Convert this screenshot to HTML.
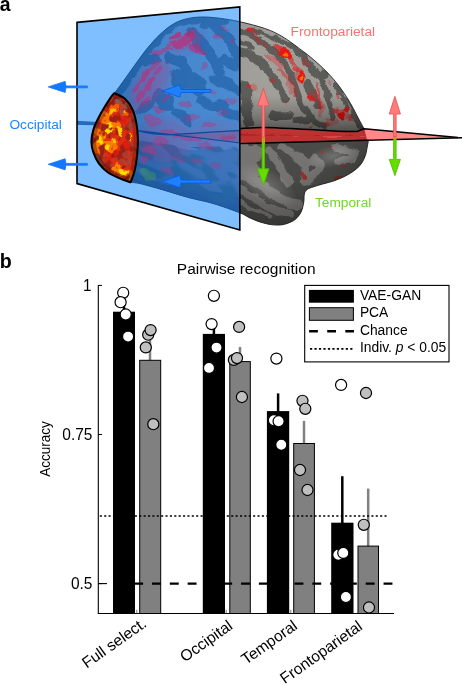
<!DOCTYPE html>
<html lang="en"><head><meta charset="utf-8"><title>Figure</title>
<style>html,body{margin:0;padding:0;background:#fff}svg{display:block}</style></head><body>
<svg width="462" height="685" viewBox="0 0 462 685">
<rect width="462" height="685" fill="#fff"/>
<defs>
<clipPath id="cb"><path d="M240.0 21.8 C247.6 23.5 257.6 26.0 264.6 28.4 C271.6 30.8 276.2 33.0 282.0 36.4 C287.8 39.8 293.5 44.2 299.3 48.5 C305.1 52.8 310.8 57.1 316.6 62.3 C322.4 67.5 328.7 73.6 333.9 79.7 C339.1 85.8 343.7 92.4 347.7 98.7 C351.7 105.0 355.4 112.7 358.1 117.7 C360.8 122.7 362.3 125.6 364.0 128.8 C365.7 132.0 367.8 134.0 368.3 137.0 C368.8 140.0 367.8 143.7 367.2 147.0 C366.6 150.3 366.2 153.8 364.8 157.0 C363.4 160.2 361.9 163.5 359.0 166.5 C356.1 169.5 351.7 172.5 347.7 174.8 C343.7 177.1 339.1 179.0 335.0 180.5 C330.9 182.0 326.4 182.9 322.8 184.0 C319.2 185.1 315.7 186.0 313.1 186.9 C310.5 187.8 308.5 188.3 307.0 189.5 C305.5 190.7 304.8 192.2 304.3 194.0 C303.8 195.8 304.2 198.0 304.0 200.0 C303.8 202.0 303.5 204.0 303.0 206.0 C302.5 208.0 302.0 210.2 301.0 212.2 C300.0 214.1 298.5 216.2 297.0 217.7 C295.5 219.2 294.5 220.2 292.0 221.4 C289.5 222.6 285.5 224.3 282.0 224.8 C278.5 225.3 274.7 225.1 271.0 224.6 C267.3 224.1 263.5 223.1 260.0 222.0 C256.5 220.9 253.3 219.5 250.0 218.0 C246.7 216.5 246.2 215.3 240.0 212.9 C233.8 210.5 221.7 206.1 213.0 203.5 C204.3 200.9 196.3 199.7 187.9 197.4 C179.5 195.1 170.7 192.2 162.8 189.9 C155.0 187.6 146.2 185.1 140.8 183.8 C135.4 182.5 133.8 182.9 130.4 182.0 C127.0 181.1 124.0 180.2 120.3 178.6 C116.6 177.0 111.6 175.1 108.0 172.5 C104.4 169.9 101.2 166.6 98.8 163.3 C96.4 160.0 94.6 156.1 93.4 152.5 C92.2 148.9 91.4 145.6 91.4 141.8 C91.4 138.0 92.2 133.6 93.4 129.5 C94.6 125.4 96.9 121.0 98.8 117.2 C100.7 113.4 103.0 109.7 104.9 106.5 C106.8 103.3 108.5 100.5 110.3 98.0 C112.1 95.5 113.5 94.3 115.7 91.5 C117.9 88.7 120.4 85.3 123.5 81.0 C126.6 76.7 130.6 71.0 134.5 65.6 C138.4 60.2 142.9 53.7 147.1 48.6 C151.3 43.5 155.4 38.8 159.6 34.8 C163.8 30.8 168.0 27.3 172.2 24.7 C176.4 22.1 180.0 20.6 184.7 19.3 C189.4 18.0 194.6 17.2 200.4 17.0 C206.2 16.8 212.7 17.4 219.3 18.2 C225.9 19.0 232.4 20.1 240.0 21.8Z"/></clipPath>
<clipPath id="cbl"><path d="M240.0 21.8 C247.6 23.5 257.6 26.0 264.6 28.4 C271.6 30.8 276.2 33.0 282.0 36.4 C287.8 39.8 293.5 44.2 299.3 48.5 C305.1 52.8 310.8 57.1 316.6 62.3 C322.4 67.5 328.7 73.6 333.9 79.7 C339.1 85.8 343.7 92.4 347.7 98.7 C351.7 105.0 355.4 112.7 358.1 117.7 C360.8 122.7 362.3 125.6 364.0 128.8 C365.7 132.0 367.8 134.0 368.3 137.0 C368.8 140.0 367.8 143.7 367.2 147.0 C366.6 150.3 366.2 153.8 364.8 157.0 C363.4 160.2 361.9 163.5 359.0 166.5 C356.1 169.5 351.7 172.5 347.7 174.8 C343.7 177.1 339.1 179.0 335.0 180.5 C330.9 182.0 326.4 182.9 322.8 184.0 C319.2 185.1 315.7 186.0 313.1 186.9 C310.5 187.8 308.5 188.3 307.0 189.5 C305.5 190.7 304.8 192.2 304.3 194.0 C303.8 195.8 304.2 198.0 304.0 200.0 C303.8 202.0 303.5 204.0 303.0 206.0 C302.5 208.0 302.0 210.2 301.0 212.2 C300.0 214.1 298.5 216.2 297.0 217.7 C295.5 219.2 294.5 220.2 292.0 221.4 C289.5 222.6 285.5 224.3 282.0 224.8 C278.5 225.3 274.7 225.1 271.0 224.6 C267.3 224.1 263.5 223.1 260.0 222.0 C256.5 220.9 253.3 219.5 250.0 218.0 C246.7 216.5 246.2 215.3 240.0 212.9 C233.8 210.5 221.7 206.1 213.0 203.5 C204.3 200.9 196.3 199.7 187.9 197.4 C179.5 195.1 170.7 192.2 162.8 189.9 C155.0 187.6 146.2 185.1 140.8 183.8 C135.4 182.5 133.8 182.9 130.4 182.0 C127.0 181.1 124.0 180.2 120.3 178.6 C116.6 177.0 111.6 175.1 108.0 172.5 C104.4 169.9 101.2 166.6 98.8 163.3 C96.4 160.0 94.6 156.1 93.4 152.5 C92.2 148.9 91.4 145.6 91.4 141.8 C91.4 138.0 92.2 133.6 93.4 129.5 C94.6 125.4 96.9 121.0 98.8 117.2 C100.7 113.4 103.0 109.7 104.9 106.5 C106.8 103.3 108.5 100.5 110.3 98.0 C112.1 95.5 113.5 94.3 115.7 91.5 C117.9 88.7 120.4 85.3 123.5 81.0 C126.6 76.7 130.6 71.0 134.5 65.6 C138.4 60.2 142.9 53.7 147.1 48.6 C151.3 43.5 155.4 38.8 159.6 34.8 C163.8 30.8 168.0 27.3 172.2 24.7 C176.4 22.1 180.0 20.6 184.7 19.3 C189.4 18.0 194.6 17.2 200.4 17.0 C206.2 16.8 212.7 17.4 219.3 18.2 C225.9 19.0 232.4 20.1 240.0 21.8Z" clip-path="url(#cleft)"/></clipPath><clipPath id="cleft"><rect x="77" y="0" width="162.5" height="240"/></clipPath>
<clipPath id="cll"><path d="M85 240 L85 150 L135 140 L190 147 L240 146 L240 240Z"/></clipPath>
<clipPath id="cleft2"><rect x="70" y="0" width="169.8" height="245"/></clipPath><clipPath id="cright"><rect x="239.8" y="0" width="150" height="245"/></clipPath>
<clipPath id="cp"><path d="M114.2 93.2 C116.0 94.1 121.8 96.1 124.9 98.8 C128.0 101.5 130.7 105.5 132.6 109.6 C134.5 113.7 135.5 118.6 136.4 123.4 C137.3 128.2 137.8 133.6 137.9 138.7 C138.0 143.8 137.7 148.9 137.2 154.0 C136.7 159.1 136.0 164.7 134.9 169.4 C133.8 174.1 131.4 180.2 130.7 182.3 L130.7 182.3 C129.0 181.7 124.1 180.2 120.3 178.6 C116.5 177.0 111.6 175.1 108.0 172.5 C104.4 169.9 101.2 166.6 98.8 163.3 C96.4 160.0 94.6 156.1 93.4 152.5 C92.2 148.9 91.4 145.6 91.4 141.8 C91.4 138.0 92.2 133.6 93.4 129.5 C94.6 125.4 96.9 121.0 98.8 117.2 C100.7 113.4 103.0 109.7 104.9 106.5 C106.8 103.3 108.8 100.2 110.3 98.0 C111.8 95.8 113.5 94.0 114.2 93.2Z"/></clipPath>
<radialGradient id="shade" gradientUnits="userSpaceOnUse" cx="262" cy="82" r="190" fx="270" fy="70"><stop offset="0" stop-color="#000" stop-opacity="0"/><stop offset="0.55" stop-color="#000" stop-opacity="0.08"/><stop offset="0.8" stop-color="#000" stop-opacity="0.35"/><stop offset="1" stop-color="#000" stop-opacity="0.6"/></radialGradient>
<linearGradient id="syl" x1="0" y1="0" x2="0" y2="1"><stop offset="0" stop-color="#000" stop-opacity="0"/><stop offset="0.55" stop-color="#000" stop-opacity="0.25"/><stop offset="1" stop-color="#000" stop-opacity="0.55"/></linearGradient>
<radialGradient id="hl"><stop offset="0" stop-color="#fff" stop-opacity="0.22"/><stop offset="1" stop-color="#fff" stop-opacity="0"/></radialGradient>
<filter id="tex" color-interpolation-filters="sRGB" x="0" y="0" width="100%" height="100%" filterUnits="objectBoundingBox"><feTurbulence type="fractalNoise" baseFrequency="0.028 0.085" numOctaves="2" seed="7"/><feColorMatrix type="matrix" values="0 0 0 0 0.36  0 0 0 0 0.36  0 0 0 0 0.355  9 0 0 0 -4.3"/></filter>
<filter id="tex2" color-interpolation-filters="sRGB" x="0" y="0" width="100%" height="100%" filterUnits="objectBoundingBox"><feTurbulence type="fractalNoise" baseFrequency="0.035 0.09" numOctaves="2" seed="23"/><feColorMatrix type="matrix" values="0 0 0 0 0.36  0 0 0 0 0.36  0 0 0 0 0.355  9 0 0 0 -4.2"/></filter>
<filter id="redtex" color-interpolation-filters="sRGB" x="0" y="0" width="100%" height="100%"><feTurbulence type="fractalNoise" baseFrequency="0.05 0.09" numOctaves="3" seed="11"/><feColorMatrix type="matrix" values="0 0 0 0 0.93  0 0 0 0 0.08  0 0 0 0 0.06  0 0 0 11 -6.6"/></filter>
<filter id="rough" x="-5%" y="-5%" width="110%" height="110%" color-interpolation-filters="sRGB"><feTurbulence type="fractalNoise" baseFrequency="0.09" numOctaves="2" seed="3" result="n"/><feDisplacementMap in="SourceGraphic" in2="n" scale="7" xChannelSelector="R" yChannelSelector="G"/></filter>
<filter id="rough2" x="-10%" y="-10%" width="120%" height="120%" color-interpolation-filters="sRGB"><feTurbulence type="fractalNoise" baseFrequency="0.14" numOctaves="2" seed="5" result="n"/><feDisplacementMap in="SourceGraphic" in2="n" scale="9" xChannelSelector="R" yChannelSelector="G"/></filter>
<linearGradient id="pshade" gradientUnits="userSpaceOnUse" x1="138" y1="110" x2="92" y2="165"><stop offset="0" stop-color="#501008" stop-opacity="0.25"/><stop offset="1" stop-color="#401008" stop-opacity="0.45"/></linearGradient>
<filter id="ptex" x="0" y="0" width="100%" height="100%" color-interpolation-filters="sRGB"><feTurbulence type="fractalNoise" baseFrequency="0.16 0.13" numOctaves="2" seed="9"/><feColorMatrix type="matrix" values="0 0 0 0 0.62  0 0 0 0 0.12  0 0 0 0 0.08  0 7 0 0 -3.6"/></filter>
<filter id="b1"><feGaussianBlur stdDeviation="1.2"/></filter>
<filter id="b3"><feGaussianBlur stdDeviation="3"/></filter>
</defs>
<g clip-path="url(#cb)">
<rect x="85" y="10" width="290" height="225" fill="#a3a19b"/>
<g clip-path="url(#cleft2)"><g filter="url(#rough)">
<rect x="70" y="0" width="180" height="245" fill="#989aa6"/>
<path d="M70 245 L70 150 L135 140 L190 150 L250 148 L250 245Z" fill="#857080"/>
<path d="M70 245 L70 182 L135 178 L190 188 L250 200 L250 245Z" fill="#5c4c66"/>
<path d="M112.0 99.0 C114.3 95.7 120.5 86.8 126.0 79.0 C131.5 71.2 138.7 60.0 145.0 52.0 C151.3 44.0 157.5 36.2 164.0 31.0 C170.5 25.8 177.2 23.1 184.0 21.0 C190.8 18.9 198.7 18.7 205.0 18.5 C211.3 18.3 219.2 19.8 222.0 20.0" fill="none" stroke="#5c5e6a" stroke-width="11.0" stroke-linecap="round" stroke-linejoin="round"/>
<path d="M192.0 33.0 C194.1 35.4 200.9 42.8 204.7 47.3 C208.5 51.8 212.1 55.7 214.6 59.8 C217.1 63.9 218.8 70.0 219.6 72.0" fill="none" stroke="#5c5e6a" stroke-width="11.0" stroke-linecap="round" stroke-linejoin="round"/>
<path d="M212.0 25.0 C214.1 26.7 220.8 30.8 224.6 35.0 C228.4 39.2 232.0 46.2 234.6 50.0 C237.2 53.8 239.1 56.7 240.0 58.0" fill="none" stroke="#5c5e6a" stroke-width="11.0" stroke-linecap="round" stroke-linejoin="round"/>
<path d="M178.0 80.0 C180.0 79.8 186.7 78.0 190.0 79.0 C193.3 80.0 196.7 84.8 198.0 86.0" fill="none" stroke="#5c5e6a" stroke-width="18.0" stroke-linecap="round" stroke-linejoin="round"/>
<path d="M214.6 79.7 C217.1 80.5 225.4 82.7 229.6 84.7 C233.8 86.8 238.3 90.8 240.0 92.0" fill="none" stroke="#5c5e6a" stroke-width="11.0" stroke-linecap="round" stroke-linejoin="round"/>
<path d="M224.6 59.8 C227.2 61.0 237.4 65.8 240.0 67.0" fill="none" stroke="#5c5e6a" stroke-width="10.0" stroke-linecap="round" stroke-linejoin="round"/>
<path d="M158.0 96.0 C159.7 97.3 166.3 102.7 168.0 104.0" fill="none" stroke="#5c5e6a" stroke-width="14.0" stroke-linecap="round" stroke-linejoin="round"/>
<path d="M168.0 58.0 C170.0 58.7 177.0 60.0 180.0 62.0 C183.0 64.0 185.0 68.7 186.0 70.0" fill="none" stroke="#5c5e6a" stroke-width="10.0" stroke-linecap="round" stroke-linejoin="round"/>
<path d="M140.0 110.0 C141.7 109.0 148.3 105.0 150.0 104.0" fill="none" stroke="#5c5e6a" stroke-width="10.0" stroke-linecap="round" stroke-linejoin="round"/>
<path d="M200.0 100.0 C202.0 101.0 208.0 105.3 212.0 106.0 C216.0 106.7 222.0 104.3 224.0 104.0" fill="none" stroke="#5c5e6a" stroke-width="10.0" stroke-linecap="round" stroke-linejoin="round"/>
<path d="M176.0 112.0 C178.0 113.7 186.0 120.3 188.0 122.0" fill="none" stroke="#5c5e6a" stroke-width="9.0" stroke-linecap="round" stroke-linejoin="round"/>
<path d="M226.0 112.0 C228.3 113.0 237.7 117.0 240.0 118.0" fill="none" stroke="#5c5e6a" stroke-width="9.0" stroke-linecap="round" stroke-linejoin="round"/>
<path d="M205.0 25.0 C206.5 24.5 212.5 22.5 214.0 22.0" fill="none" stroke="#5c5e6a" stroke-width="8.0" stroke-linecap="round" stroke-linejoin="round"/>
<path d="M146.0 62.0 C147.7 61.3 154.3 58.7 156.0 58.0" fill="none" stroke="#5c5e6a" stroke-width="9.0" stroke-linecap="round" stroke-linejoin="round"/>
</g></g>
<g clip-path="url(#cright)"><g filter="url(#rough)">
<path d="M225.0 245.0 L225.0 133.0 L300.0 136.0 L390.0 136.0 L390.0 245.0 Z" fill="#4f4f4d"/>
<path d="M252.0 30.5 C254.0 31.2 260.0 33.0 264.0 34.5 C268.0 36.0 271.7 37.5 276.0 39.5 C280.3 41.5 285.5 43.9 290.0 46.5 C294.5 49.1 300.8 53.6 303.0 55.0" fill="none" stroke="#5f5f5c" stroke-width="3.4" stroke-linecap="round" stroke-linejoin="round"/>
<path d="M240.0 31.0 C242.0 31.8 248.2 33.8 251.9 35.8 C255.6 37.8 258.8 40.3 262.2 42.7 C265.6 45.1 269.7 47.4 272.6 50.0 C275.5 52.6 277.3 55.5 279.6 58.3 C281.9 61.1 284.4 63.7 286.5 67.0 C288.6 70.3 290.2 73.8 292.0 78.0 C293.8 82.2 295.4 87.7 297.0 92.0 C298.6 96.3 300.1 101.0 301.5 104.0 C302.9 107.0 304.8 109.0 305.5 110.0" fill="none" stroke="#5f5f5c" stroke-width="6.5" stroke-linecap="round" stroke-linejoin="round"/>
<path d="M240.0 52.0 C241.4 52.3 245.8 52.9 248.4 54.0 C251.0 55.1 252.7 56.6 255.3 58.6 C257.9 60.6 261.4 63.4 264.0 66.0 C266.6 68.6 268.7 71.0 271.0 74.0 C273.3 77.0 275.8 80.8 277.8 84.0 C279.8 87.2 281.6 91.0 283.0 93.5 C284.4 96.0 285.5 98.1 286.0 99.0" fill="none" stroke="#5f5f5c" stroke-width="7.8" stroke-linecap="round" stroke-linejoin="round"/>
<path d="M241.0 42.0 C242.0 42.4 245.3 43.5 247.0 44.5 C248.7 45.5 250.3 47.4 251.0 48.0" fill="none" stroke="#5f5f5c" stroke-width="5.2" stroke-linecap="round" stroke-linejoin="round"/>
<path d="M295.1 49.6 C296.5 50.7 300.7 53.6 303.2 56.0 C305.7 58.4 307.5 60.7 310.1 64.0 C312.7 67.3 316.2 71.7 318.8 76.0 C321.4 80.3 324.0 85.2 325.7 90.0 C327.4 94.8 328.0 100.3 329.2 105.0 C330.4 109.7 332.0 115.8 332.6 118.0" fill="none" stroke="#5f5f5c" stroke-width="6.0" stroke-linecap="round" stroke-linejoin="round"/>
<path d="M305.0 60.0 C306.0 61.3 308.8 65.0 311.0 68.0 C313.2 71.0 316.8 76.3 318.0 78.0" fill="none" stroke="#5f5f5c" stroke-width="5.5" stroke-linecap="round" stroke-linejoin="round"/>
<path d="M276.0 37.5 C277.7 38.4 283.0 41.2 286.0 43.0 C289.0 44.8 292.7 47.2 294.0 48.0" fill="none" stroke="#5f5f5c" stroke-width="5.9" stroke-linecap="round" stroke-linejoin="round"/>
<path d="M245.0 85.6 C245.3 87.3 246.6 92.0 246.7 96.0 C246.8 100.0 245.5 105.6 245.8 109.8 C246.1 114.0 248.0 119.1 248.4 121.0" fill="none" stroke="#5f5f5c" stroke-width="11.1" stroke-linecap="round" stroke-linejoin="round"/>
<path d="M307.3 84.0 C308.3 86.0 311.8 92.3 313.5 96.0 C315.2 99.7 317.0 104.3 317.7 106.0" fill="none" stroke="#5f5f5c" stroke-width="5.9" stroke-linecap="round" stroke-linejoin="round"/>
<path d="M273.0 115.9 C275.7 115.8 286.3 115.6 289.0 115.5" fill="none" stroke="#5f5f5c" stroke-width="8.5" stroke-linecap="round" stroke-linejoin="round"/>
<path d="M296.0 120.5 C298.0 120.3 306.0 119.7 308.0 119.5" fill="none" stroke="#5f5f5c" stroke-width="7.2" stroke-linecap="round" stroke-linejoin="round"/>
<path d="M308.4 112.7 C309.5 114.2 312.7 119.7 315.3 122.0 C317.9 124.3 322.6 125.8 324.0 126.6" fill="none" stroke="#5f5f5c" stroke-width="6.5" stroke-linecap="round" stroke-linejoin="round"/>
<path d="M324.0 74.6 C324.0 74.6 324.2 74.8 324.2 74.8" fill="none" stroke="#5f5f5c" stroke-width="9.1" stroke-linecap="round" stroke-linejoin="round"/>
<path d="M337.8 86.0 C337.9 86.8 338.1 90.2 338.2 91.0" fill="none" stroke="#5f5f5c" stroke-width="7.8" stroke-linecap="round" stroke-linejoin="round"/>
<path d="M336.0 83.0 C337.3 85.0 341.3 90.8 344.0 95.0 C346.7 99.2 349.6 103.7 352.0 108.0 C354.4 112.3 356.7 117.3 358.5 121.0 C360.3 124.7 362.2 128.5 363.0 130.0" fill="none" stroke="#5f5f5c" stroke-width="3.9" stroke-linecap="round" stroke-linejoin="round"/>
<path d="M355.0 116.0 C355.8 117.7 359.2 124.3 360.0 126.0" fill="none" stroke="#5f5f5c" stroke-width="6.5" stroke-linecap="round" stroke-linejoin="round"/>
<path d="M343.0 100.0 C343.7 101.7 346.3 108.3 347.0 110.0" fill="none" stroke="#5f5f5c" stroke-width="4.5" stroke-linecap="round" stroke-linejoin="round"/>
<path d="M243.0 150.0 C244.2 150.8 248.0 154.5 250.0 155.0 C252.0 155.5 254.2 153.3 255.0 153.0" fill="none" stroke="#7d7c79" stroke-width="17.1" stroke-linecap="round" stroke-linejoin="round"/>
<path d="M242.0 160.0 C243.0 161.0 246.0 164.0 248.0 166.0 C250.0 168.0 253.0 171.0 254.0 172.0" fill="none" stroke="#7d7c79" stroke-width="11.4" stroke-linecap="round" stroke-linejoin="round"/>
<path d="M269.2 150.4 C270.6 152.4 275.2 158.5 277.8 162.5 C280.4 166.5 282.8 171.1 284.8 174.6 C286.8 178.1 289.1 181.9 290.0 183.3" fill="none" stroke="#7d7c79" stroke-width="8.4" stroke-linecap="round" stroke-linejoin="round"/>
<path d="M281.3 147.5 C282.8 148.0 287.1 148.7 290.0 150.6 C292.9 152.5 295.9 156.4 298.6 159.0 C301.3 161.6 304.8 164.8 306.0 166.0" fill="none" stroke="#7d7c79" stroke-width="8.0" stroke-linecap="round" stroke-linejoin="round"/>
<path d="M298.0 155.0 C299.2 157.2 304.1 163.7 305.0 168.0 C305.9 172.3 303.8 178.8 303.5 181.0" fill="none" stroke="#7d7c79" stroke-width="7.6" stroke-linecap="round" stroke-linejoin="round"/>
<path d="M240.0 173.0 C242.0 174.0 247.9 176.4 251.9 178.8 C255.9 181.2 260.0 184.6 264.0 187.5 C268.0 190.4 271.7 193.4 276.0 196.0 C280.3 198.6 286.2 201.5 290.0 203.0 C293.8 204.5 297.2 204.5 298.6 204.8" fill="none" stroke="#7d7c79" stroke-width="10.6" stroke-linecap="round" stroke-linejoin="round"/>
<path d="M240.0 188.5 C242.0 189.8 247.9 193.3 251.9 196.0 C255.9 198.7 259.7 202.2 264.0 204.8 C268.3 207.4 273.5 210.2 277.8 211.7 C282.1 213.1 288.0 213.2 290.0 213.5" fill="none" stroke="#7d7c79" stroke-width="8.0" stroke-linecap="round" stroke-linejoin="round"/>
<path d="M240.0 201.5 C242.6 203.0 250.4 208.2 255.3 210.7 C260.2 213.2 266.9 215.5 269.2 216.5" fill="none" stroke="#7d7c79" stroke-width="4.2" stroke-linecap="round" stroke-linejoin="round"/>
<path d="M334.0 148.0 C336.0 148.2 342.5 148.4 346.0 149.5 C349.5 150.6 354.5 152.8 355.0 154.5 C355.5 156.2 351.8 158.4 349.0 159.5 C346.2 160.6 339.8 160.8 338.0 161.0" fill="none" stroke="#7d7c79" stroke-width="7.6" stroke-linecap="round" stroke-linejoin="round"/>
<path d="M298.0 154.5 C299.4 155.7 303.7 160.6 306.5 161.5 C309.3 162.4 312.7 159.4 315.0 160.0 C317.3 160.6 320.5 162.8 320.5 165.0 C320.5 167.2 317.0 171.0 315.0 173.5 C313.0 176.0 309.6 178.9 308.5 180.0" fill="none" stroke="#7d7c79" stroke-width="8.7" stroke-linecap="round" stroke-linejoin="round"/>
<path d="M252.0 163.0 C253.0 164.0 256.3 166.8 258.0 169.0 C259.7 171.2 261.3 174.8 262.0 176.0" fill="none" stroke="#7d7c79" stroke-width="5.7" stroke-linecap="round" stroke-linejoin="round"/>
</g></g>
<g clip-path="url(#cll)"><g transform="rotate(24 190 170)"><rect x="60" y="60" width="260" height="220" fill="#a08e9c" fill-opacity="0.55" filter="url(#tex2)"/></g></g>
<g filter="url(#rough)">
<ellipse cx="282.0" cy="52.0" rx="11.0" ry="4.2" transform="rotate(35 282.0 52.0)" fill="#e01818" fill-opacity="0.38"/>
<ellipse cx="300.0" cy="76.0" rx="4.6" ry="7.5" transform="rotate(-30 300.0 76.0)" fill="#e01818" fill-opacity="0.38"/>
<ellipse cx="343.0" cy="114.0" rx="7.0" ry="5.5" transform="rotate(20 343.0 114.0)" fill="#e01818" fill-opacity="0.38"/>
<ellipse cx="276.0" cy="62.0" rx="2.5" ry="12.0" transform="rotate(-48 276.0 62.0)" fill="#e02020" fill-opacity="0.30"/>
<ellipse cx="292.0" cy="84.0" rx="2.5" ry="12.0" transform="rotate(-28 292.0 84.0)" fill="#e02020" fill-opacity="0.30"/>
<ellipse cx="252.0" cy="32.0" rx="8.0" ry="2.5" transform="rotate(28 252.0 32.0)" fill="#e02020" fill-opacity="0.30"/>
<ellipse cx="313.0" cy="96.0" rx="4.0" ry="6.0" transform="rotate(-15 313.0 96.0)" fill="#e02020" fill-opacity="0.30"/>
<ellipse cx="321.0" cy="108.0" rx="2.5" ry="9.0" transform="rotate(-8 321.0 108.0)" fill="#e02020" fill-opacity="0.30"/>
<ellipse cx="307.0" cy="64.0" rx="5.0" ry="3.0" transform="rotate(35 307.0 64.0)" fill="#e02020" fill-opacity="0.27"/>
<ellipse cx="263.0" cy="44.0" rx="6.0" ry="2.0" transform="rotate(35 263.0 44.0)" fill="#e02020" fill-opacity="0.27"/>
<ellipse cx="332.0" cy="122.0" rx="7.0" ry="3.0" transform="rotate(10 332.0 122.0)" fill="#e02020" fill-opacity="0.30"/>
<ellipse cx="254.0" cy="88.0" rx="4.0" ry="3.0" transform="rotate(0 254.0 88.0)" fill="#e02020" fill-opacity="0.30"/>
<ellipse cx="284.8" cy="54.0" rx="8.5" ry="4.2" transform="rotate(35 284.8 54.0)" fill="#f01010" fill-opacity="0.95"/>
<ellipse cx="285.5" cy="55.0" rx="3.6" ry="1.8" transform="rotate(35 285.5 55.0)" fill="#ff7a00" fill-opacity="0.95"/>
<ellipse cx="278.0" cy="47.0" rx="6.0" ry="2.2" transform="rotate(32 278.0 47.0)" fill="#e02020" fill-opacity="0.55"/>
<ellipse cx="292.0" cy="61.0" rx="5.0" ry="2.2" transform="rotate(40 292.0 61.0)" fill="#e02020" fill-opacity="0.60"/>
<ellipse cx="248.4" cy="29.7" rx="3.2" ry="1.6" transform="rotate(25 248.4 29.7)" fill="#e81818" fill-opacity="0.85"/>
<ellipse cx="257.0" cy="38.4" rx="4.5" ry="1.2" transform="rotate(35 257.0 38.4)" fill="#e02020" fill-opacity="0.70"/>
<ellipse cx="301.5" cy="77.2" rx="3.6" ry="5.2" transform="rotate(-25 301.5 77.2)" fill="#f01010" fill-opacity="0.95"/>
<ellipse cx="302.0" cy="78.0" rx="1.7" ry="2.6" transform="rotate(-25 302.0 78.0)" fill="#ff8800" fill-opacity="0.95"/>
<ellipse cx="296.0" cy="69.0" rx="3.0" ry="4.5" transform="rotate(-35 296.0 69.0)" fill="#e02020" fill-opacity="0.60"/>
<ellipse cx="341.3" cy="116.2" rx="3.6" ry="5.0" transform="rotate(0 341.3 116.2)" fill="#f00c0c" fill-opacity="0.95"/>
<ellipse cx="346.5" cy="110.5" rx="3.6" ry="2.6" transform="rotate(30 346.5 110.5)" fill="#e81818" fill-opacity="0.85"/>
<ellipse cx="336.0" cy="110.0" rx="3.5" ry="2.2" transform="rotate(-20 336.0 110.0)" fill="#e02020" fill-opacity="0.70"/>
<ellipse cx="351.0" cy="118.0" rx="2.0" ry="3.0" transform="rotate(0 351.0 118.0)" fill="#e02020" fill-opacity="0.60"/>
<ellipse cx="311.0" cy="98.9" rx="2.2" ry="3.4" transform="rotate(-15 311.0 98.9)" fill="#e81818" fill-opacity="0.80"/>
<ellipse cx="318.8" cy="100.0" rx="1.6" ry="9.0" transform="rotate(-3 318.8 100.0)" fill="#e02020" fill-opacity="0.60"/>
<ellipse cx="316.5" cy="88.0" rx="1.4" ry="5.0" transform="rotate(-12 316.5 88.0)" fill="#e02020" fill-opacity="0.50"/>
<ellipse cx="337.8" cy="96.5" rx="2.4" ry="3.6" transform="rotate(-20 337.8 96.5)" fill="#e83030" fill-opacity="0.50"/>
<ellipse cx="250.0" cy="85.6" rx="2.2" ry="1.8" transform="rotate(0 250.0 85.6)" fill="#e81818" fill-opacity="0.80"/>
<ellipse cx="283.0" cy="74.0" rx="1.6" ry="7.0" transform="rotate(-38 283.0 74.0)" fill="#e02020" fill-opacity="0.50"/>
<ellipse cx="290.0" cy="88.0" rx="1.5" ry="7.0" transform="rotate(-25 290.0 88.0)" fill="#e02020" fill-opacity="0.33"/>
<ellipse cx="268.0" cy="58.0" rx="1.4" ry="5.0" transform="rotate(-50 268.0 58.0)" fill="#e02020" fill-opacity="0.33"/>
<ellipse cx="273.0" cy="79.0" rx="2.0" ry="2.0" transform="rotate(0 273.0 79.0)" fill="#e02020" fill-opacity="0.50"/>
<ellipse cx="295.0" cy="96.0" rx="2.2" ry="2.2" transform="rotate(0 295.0 96.0)" fill="#e02020" fill-opacity="0.50"/>
<ellipse cx="287.0" cy="102.0" rx="2.0" ry="1.5" transform="rotate(0 287.0 102.0)" fill="#e02020" fill-opacity="0.50"/>
<ellipse cx="326.0" cy="124.0" rx="4.0" ry="1.6" transform="rotate(10 326.0 124.0)" fill="#e02020" fill-opacity="0.60"/>
<ellipse cx="310.0" cy="127.0" rx="3.0" ry="1.4" transform="rotate(0 310.0 127.0)" fill="#e02020" fill-opacity="0.50"/>
<ellipse cx="305.0" cy="60.0" rx="2.5" ry="1.2" transform="rotate(30 305.0 60.0)" fill="#e02020" fill-opacity="0.50"/>
<ellipse cx="330.0" cy="82.0" rx="1.5" ry="3.0" transform="rotate(-20 330.0 82.0)" fill="#e02020" fill-opacity="0.30"/>
<ellipse cx="303.0" cy="176.0" rx="1.6" ry="3.2" transform="rotate(-25 303.0 176.0)" fill="#b01818" fill-opacity="0.75"/>
<ellipse cx="330.0" cy="147.5" rx="1.6" ry="1.4" transform="rotate(0 330.0 147.5)" fill="#c01818" fill-opacity="0.70"/>
<ellipse cx="322.5" cy="152.5" rx="1.6" ry="1.4" transform="rotate(0 322.5 152.5)" fill="#c01818" fill-opacity="0.70"/>
<ellipse cx="338.0" cy="177.0" rx="5.0" ry="1.8" transform="rotate(-28 338.0 177.0)" fill="#a01414" fill-opacity="0.60"/>
<ellipse cx="344.0" cy="166.0" rx="1.4" ry="1.2" transform="rotate(0 344.0 166.0)" fill="#c01818" fill-opacity="0.50"/>
</g>
<rect x="85" y="10" width="290" height="225" fill="url(#shade)"/>
<rect x="240" y="96" width="140" height="40" fill="url(#syl)"/>
<ellipse cx="266" cy="186" rx="36" ry="17" transform="rotate(30 266 186)" fill="url(#hl)"/>
<ellipse cx="333" cy="156" rx="26" ry="11" transform="rotate(-12 333 156)" fill="url(#hl)"/>
</g>
<path d="M240.0 21.8 C247.6 23.5 257.6 26.0 264.6 28.4 C271.6 30.8 276.2 33.0 282.0 36.4 C287.8 39.8 293.5 44.2 299.3 48.5 C305.1 52.8 310.8 57.1 316.6 62.3 C322.4 67.5 328.7 73.6 333.9 79.7 C339.1 85.8 343.7 92.4 347.7 98.7 C351.7 105.0 355.4 112.7 358.1 117.7 C360.8 122.7 362.3 125.6 364.0 128.8 C365.7 132.0 367.8 134.0 368.3 137.0 C368.8 140.0 367.8 143.7 367.2 147.0 C366.6 150.3 366.2 153.8 364.8 157.0 C363.4 160.2 361.9 163.5 359.0 166.5 C356.1 169.5 351.7 172.5 347.7 174.8 C343.7 177.1 339.1 179.0 335.0 180.5 C330.9 182.0 326.4 182.9 322.8 184.0 C319.2 185.1 315.7 186.0 313.1 186.9 C310.5 187.8 308.5 188.3 307.0 189.5 C305.5 190.7 304.8 192.2 304.3 194.0 C303.8 195.8 304.2 198.0 304.0 200.0 C303.8 202.0 303.5 204.0 303.0 206.0 C302.5 208.0 302.0 210.2 301.0 212.2 C300.0 214.1 298.5 216.2 297.0 217.7 C295.5 219.2 294.5 220.2 292.0 221.4 C289.5 222.6 285.5 224.3 282.0 224.8 C278.5 225.3 274.7 225.1 271.0 224.6 C267.3 224.1 263.5 223.1 260.0 222.0 C256.5 220.9 253.3 219.5 250.0 218.0 C246.7 216.5 246.2 215.3 240.0 212.9 C233.8 210.5 221.7 206.1 213.0 203.5 C204.3 200.9 196.3 199.7 187.9 197.4 C179.5 195.1 170.7 192.2 162.8 189.9 C155.0 187.6 146.2 185.1 140.8 183.8 C135.4 182.5 133.8 182.9 130.4 182.0 C127.0 181.1 124.0 180.2 120.3 178.6 C116.6 177.0 111.6 175.1 108.0 172.5 C104.4 169.9 101.2 166.6 98.8 163.3 C96.4 160.0 94.6 156.1 93.4 152.5 C92.2 148.9 91.4 145.6 91.4 141.8 C91.4 138.0 92.2 133.6 93.4 129.5 C94.6 125.4 96.9 121.0 98.8 117.2 C100.7 113.4 103.0 109.7 104.9 106.5 C106.8 103.3 108.5 100.5 110.3 98.0 C112.1 95.5 113.5 94.3 115.7 91.5 C117.9 88.7 120.4 85.3 123.5 81.0 C126.6 76.7 130.6 71.0 134.5 65.6 C138.4 60.2 142.9 53.7 147.1 48.6 C151.3 43.5 155.4 38.8 159.6 34.8 C163.8 30.8 168.0 27.3 172.2 24.7 C176.4 22.1 180.0 20.6 184.7 19.3 C189.4 18.0 194.6 17.2 200.4 17.0 C206.2 16.8 212.7 17.4 219.3 18.2 C225.9 19.0 232.4 20.1 240.0 21.8Z" fill="none" stroke="#222" stroke-width="0.9"/>
<path d="M239.8 128.7 C243.9 128.5 254.7 127.4 264.6 127.4 C274.5 127.5 287.8 128.4 299.3 129.0 C310.9 129.6 324.3 130.5 333.9 130.9 C343.5 131.3 353.1 131.4 357.0 131.5 L364.2 128.9 L367.5 129 L368 139.6 L239.8 143.5Z" fill="#f02626" fill-opacity="0.68"/>
<path d="M364.2 128.6 L462 137.9 L367 139.7Z" fill="#ff8888"/>
<path d="M239.8 128.7 C243.9 128.5 254.7 127.4 264.6 127.4 C274.5 127.5 287.8 128.4 299.3 129.0 C310.9 129.6 324.3 130.5 333.9 130.9 C343.5 131.3 353.1 131.4 357.0 131.5 L364.2 128.8 L458 137.6" fill="none" stroke="#000" stroke-width="1.5" stroke-linejoin="round"/>
<path d="M239.8 143.6 L462 137.7" fill="none" stroke="#000" stroke-width="1.5"/>
<path d="M262.1 143.4 L262.1 168.8 L257.8 168.8 L263.4 185.0 L268.9 168.8 L264.6 168.8 L264.6 143.4 Z" fill="#66dd00" stroke="#55bb00" stroke-width="0.9" stroke-linejoin="round"/>
<rect x="261.8" y="136.7" width="3.2" height="7.0" fill="#c89a18"/>
<path d="M262.1 137.0 L262.1 105.8 L257.8 105.8 L263.4 88.2 L268.9 105.8 L264.6 105.8 L264.6 137.0 Z" fill="#ff7b7b" stroke="#e65555" stroke-width="0.9" stroke-linejoin="round"/>
<path d="M393.6 138.9 L393.6 159.4 L389.3 159.4 L394.9 175.6 L400.4 159.4 L396.1 159.4 L396.1 138.9 Z" fill="#66dd00" stroke="#55bb00" stroke-width="0.9" stroke-linejoin="round"/>
<rect x="393.3" y="136.2" width="3.2" height="3.0" fill="#c89a18"/>
<path d="M393.6 136.5 L393.6 114.0 L389.3 114.0 L394.9 96.4 L400.4 114.0 L396.1 114.0 L396.1 136.5 Z" fill="#ff7b7b" stroke="#e65555" stroke-width="0.9" stroke-linejoin="round"/>
<path d="M77.0 22.4 L239.8 7.0 L239.8 230.0 L77.0 183.6Z" fill="#0080ff" fill-opacity="0.5"/>
<g clip-path="url(#cbl)"><g filter="url(#b3)" fill="#c02c78"><ellipse cx="150" cy="86" rx="14" ry="30" transform="rotate(35 150 86)" fill-opacity="0.28"/><ellipse cx="186" cy="42" rx="18" ry="8" transform="rotate(-20 186 42)" fill-opacity="0.28"/><ellipse cx="165" cy="140" rx="28" ry="22" fill-opacity="0.2"/><ellipse cx="215" cy="135" rx="25" ry="14" fill-opacity="0.15"/></g><g filter="url(#rough)">
<ellipse cx="184.0" cy="41.0" rx="12.0" ry="5.0" transform="rotate(-28 184.0 41.0)" fill="#c02c78" fill-opacity="0.70"/>
<ellipse cx="196.0" cy="47.0" rx="7.0" ry="3.5" transform="rotate(20 196.0 47.0)" fill="#c02c78" fill-opacity="0.60"/>
<ellipse cx="162.0" cy="51.0" rx="11.0" ry="2.6" transform="rotate(-12 162.0 51.0)" fill="#c02c78" fill-opacity="0.55"/>
<ellipse cx="150.0" cy="84.0" rx="9.0" ry="3.0" transform="rotate(-55 150.0 84.0)" fill="#c02c78" fill-opacity="0.60"/>
<ellipse cx="141.0" cy="96.0" rx="8.0" ry="2.6" transform="rotate(-55 141.0 96.0)" fill="#c02c78" fill-opacity="0.55"/>
<ellipse cx="158.0" cy="70.0" rx="6.0" ry="2.2" transform="rotate(-50 158.0 70.0)" fill="#c02c78" fill-opacity="0.50"/>
<ellipse cx="166.0" cy="98.0" rx="5.0" ry="2.0" transform="rotate(-40 166.0 98.0)" fill="#c02c78" fill-opacity="0.45"/>
<ellipse cx="218.0" cy="37.0" rx="5.0" ry="1.8" transform="rotate(20 218.0 37.0)" fill="#c02c78" fill-opacity="0.45"/>
<ellipse cx="226.0" cy="28.0" rx="4.0" ry="1.6" transform="rotate(20 226.0 28.0)" fill="#c02c78" fill-opacity="0.40"/>
<ellipse cx="204.0" cy="66.0" rx="3.0" ry="5.0" transform="rotate(0 204.0 66.0)" fill="#c02c78" fill-opacity="0.35"/>
<ellipse cx="152.0" cy="120.0" rx="9.0" ry="5.0" transform="rotate(20 152.0 120.0)" fill="#c02c78" fill-opacity="0.40"/>
<ellipse cx="170.0" cy="133.0" rx="10.0" ry="4.0" transform="rotate(10 170.0 133.0)" fill="#c02c78" fill-opacity="0.40"/>
<ellipse cx="192.0" cy="118.0" rx="8.0" ry="4.0" transform="rotate(-10 192.0 118.0)" fill="#c02c78" fill-opacity="0.35"/>
<ellipse cx="205.0" cy="146.0" rx="9.0" ry="3.5" transform="rotate(15 205.0 146.0)" fill="#c02c78" fill-opacity="0.35"/>
<ellipse cx="150.0" cy="150.0" rx="7.0" ry="5.0" transform="rotate(30 150.0 150.0)" fill="#c02c78" fill-opacity="0.40"/>
<ellipse cx="178.0" cy="160.0" rx="8.0" ry="3.0" transform="rotate(20 178.0 160.0)" fill="#c02c78" fill-opacity="0.30"/>
<ellipse cx="222.0" cy="112.0" rx="6.0" ry="3.0" transform="rotate(10 222.0 112.0)" fill="#c02c78" fill-opacity="0.30"/>
<ellipse cx="215.0" cy="165.0" rx="6.0" ry="2.5" transform="rotate(15 215.0 165.0)" fill="#c02c78" fill-opacity="0.30"/>
<ellipse cx="148.0" cy="174.0" rx="10.0" ry="5.0" transform="rotate(25 148.0 174.0)" fill="#58b838" fill-opacity="0.28"/>
<ellipse cx="176.0" cy="36.0" rx="6.0" ry="2.5" transform="rotate(-35 176.0 36.0)" fill="#c82468" fill-opacity="0.70"/>
<ellipse cx="190.0" cy="33.0" rx="5.0" ry="2.0" transform="rotate(-10 190.0 33.0)" fill="#c82468" fill-opacity="0.60"/>
<ellipse cx="201.0" cy="52.0" rx="6.0" ry="2.5" transform="rotate(30 201.0 52.0)" fill="#c02c78" fill-opacity="0.60"/>
<ellipse cx="170.0" cy="45.0" rx="5.0" ry="2.0" transform="rotate(-30 170.0 45.0)" fill="#c02c78" fill-opacity="0.55"/>
<ellipse cx="145.0" cy="76.0" rx="2.5" ry="8.0" transform="rotate(35 145.0 76.0)" fill="#c02c78" fill-opacity="0.60"/>
<ellipse cx="137.0" cy="88.0" rx="2.5" ry="8.0" transform="rotate(35 137.0 88.0)" fill="#c02c78" fill-opacity="0.55"/>
<ellipse cx="154.0" cy="66.0" rx="2.5" ry="6.0" transform="rotate(40 154.0 66.0)" fill="#c02c78" fill-opacity="0.50"/>
<ellipse cx="146.0" cy="100.0" rx="6.0" ry="2.0" transform="rotate(-50 146.0 100.0)" fill="#c02c78" fill-opacity="0.50"/>
<ellipse cx="160.0" cy="110.0" rx="6.0" ry="3.0" transform="rotate(10 160.0 110.0)" fill="#c02c78" fill-opacity="0.45"/>
<ellipse cx="186.0" cy="104.0" rx="7.0" ry="3.0" transform="rotate(15 186.0 104.0)" fill="#c02c78" fill-opacity="0.40"/>
<ellipse cx="208.0" cy="125.0" rx="8.0" ry="3.0" transform="rotate(5 208.0 125.0)" fill="#c02c78" fill-opacity="0.40"/>
<ellipse cx="228.0" cy="138.0" rx="8.0" ry="3.0" transform="rotate(5 228.0 138.0)" fill="#c02c78" fill-opacity="0.45"/>
<ellipse cx="190.0" cy="138.0" rx="12.0" ry="3.0" transform="rotate(5 190.0 138.0)" fill="#c02c78" fill-opacity="0.40"/>
<ellipse cx="160.0" cy="142.0" rx="8.0" ry="4.0" transform="rotate(5 160.0 142.0)" fill="#c02c78" fill-opacity="0.40"/>
<ellipse cx="230.0" cy="100.0" rx="5.0" ry="2.5" transform="rotate(20 230.0 100.0)" fill="#c02c78" fill-opacity="0.35"/>
<ellipse cx="212.0" cy="92.0" rx="4.0" ry="2.0" transform="rotate(20 212.0 92.0)" fill="#c02c78" fill-opacity="0.35"/>
<ellipse cx="232.0" cy="42.0" rx="3.0" ry="1.5" transform="rotate(20 232.0 42.0)" fill="#c02c78" fill-opacity="0.45"/>
<ellipse cx="143.0" cy="160.0" rx="5.0" ry="4.0" transform="rotate(20 143.0 160.0)" fill="#c02c78" fill-opacity="0.40"/>
<ellipse cx="196.0" cy="160.0" rx="7.0" ry="3.0" transform="rotate(15 196.0 160.0)" fill="#c02c78" fill-opacity="0.30"/>
<ellipse cx="168.0" cy="170.0" rx="7.0" ry="3.0" transform="rotate(15 168.0 170.0)" fill="#c02c78" fill-opacity="0.30"/>
</g></g>
<path d="M98 124.6 L138 130.6 L239 142.8 L239 130.6 C215 131.4 190 134 168 134.6 C155 134.4 145 132.6 138 130.6Z" fill="#b02858" fill-opacity="0.22"/>
<path d="M98 124.6 L138 130.6 L239 142.8 M239 130.6 C215 131.4 190 134 168 134.6 C155 134.4 145 132.6 138 130.6 M77 123.6" fill="none" stroke="#0b4a9c" stroke-width="1.1"/>
<path d="M77.6 121.4 L98 122.5 L98 124.9 L77.6 124.3Z" fill="#2a6fc4" stroke="#0b4a9c" stroke-width="0.7"/>
<path d="M77.0 22.4 L239.8 7.0 L239.8 230.0 L77.0 183.6Z" fill="none" stroke="#000" stroke-width="1.6" stroke-linejoin="miter"/>
<path d="M210.6 89.5 L181.0 89.5 L179.8 84.9 L162.0 91.0 L179.8 97.1 L181.0 92.5 L210.6 92.5 Z" fill="#1f80ff" stroke="#0a5fe0" stroke-width="0.9" stroke-linejoin="round"/>
<path d="M210.6 180.0 L181.0 180.0 L179.8 175.4 L162.0 181.5 L179.8 187.6 L181.0 183.0 L210.6 183.0 Z" fill="#1f80ff" stroke="#0a5fe0" stroke-width="0.9" stroke-linejoin="round"/>
<path d="M87.4 86.0 L65.9 86.0 L65.1 81.4 L48.3 86.9 L65.1 92.4 L65.9 87.8 L87.4 87.8 Z" fill="#1478ff" stroke="#1478ff" stroke-width="0.9" stroke-linejoin="round"/>
<path d="M87.4 163.4 L65.9 163.4 L65.1 158.8 L48.3 164.3 L65.1 169.8 L65.9 165.2 L87.4 165.2 Z" fill="#1478ff" stroke="#1478ff" stroke-width="0.9" stroke-linejoin="round"/>
<g clip-path="url(#cp)">
<rect x="88" y="90" width="54" height="96" fill="#e02c10"/>
<g filter="url(#rough2)">
<ellipse cx="117.0" cy="99.0" rx="5.0" ry="3.0" transform="rotate(30 117.0 99.0)" fill="#6e6a68" fill-opacity="0.90"/>
<ellipse cx="126.0" cy="105.0" rx="3.0" ry="5.0" transform="rotate(-20 126.0 105.0)" fill="#7a6460" fill-opacity="0.80"/>
<ellipse cx="121.0" cy="111.0" rx="3.0" ry="4.0" transform="rotate(0 121.0 111.0)" fill="#806058" fill-opacity="0.70"/>
<ellipse cx="101.0" cy="158.0" rx="4.0" ry="6.0" transform="rotate(-35 101.0 158.0)" fill="#76625e" fill-opacity="0.80"/>
<ellipse cx="110.0" cy="166.0" rx="6.0" ry="3.0" transform="rotate(25 110.0 166.0)" fill="#7a5e58" fill-opacity="0.75"/>
<ellipse cx="128.0" cy="160.0" rx="4.0" ry="5.0" transform="rotate(0 128.0 160.0)" fill="#8a5048" fill-opacity="0.60"/>
<ellipse cx="132.0" cy="150.0" rx="3.0" ry="6.0" transform="rotate(0 132.0 150.0)" fill="#90483c" fill-opacity="0.60"/>
<ellipse cx="133.0" cy="120.0" rx="2.5" ry="7.0" transform="rotate(0 133.0 120.0)" fill="#8a4a40" fill-opacity="0.60"/>
<ellipse cx="106.0" cy="118.0" rx="6.0" ry="7.0" transform="rotate(-30 106.0 118.0)" fill="#ff7a00" fill-opacity="0.95"/>
<ellipse cx="116.0" cy="125.0" rx="7.0" ry="5.0" transform="rotate(20 116.0 125.0)" fill="#ff8000" fill-opacity="0.90"/>
<ellipse cx="100.0" cy="135.0" rx="6.0" ry="8.0" transform="rotate(-10 100.0 135.0)" fill="#ff7a00" fill-opacity="0.95"/>
<ellipse cx="110.0" cy="146.0" rx="9.0" ry="6.0" transform="rotate(10 110.0 146.0)" fill="#ff8400" fill-opacity="0.90"/>
<ellipse cx="120.0" cy="170.0" rx="9.0" ry="5.0" transform="rotate(20 120.0 170.0)" fill="#ff8800" fill-opacity="0.95"/>
<ellipse cx="126.0" cy="113.0" rx="3.0" ry="3.5" transform="rotate(0 126.0 113.0)" fill="#ff7400" fill-opacity="0.80"/>
<ellipse cx="97.0" cy="147.0" rx="4.0" ry="6.0" transform="rotate(0 97.0 147.0)" fill="#ff8000" fill-opacity="0.90"/>
<ellipse cx="129.0" cy="174.0" rx="4.0" ry="4.0" transform="rotate(0 129.0 174.0)" fill="#ff8000" fill-opacity="0.90"/>
<ellipse cx="113.0" cy="108.0" rx="4.0" ry="4.0" transform="rotate(0 113.0 108.0)" fill="#ff6a00" fill-opacity="0.80"/>
<ellipse cx="109.0" cy="128.0" rx="4.0" ry="5.0" transform="rotate(-20 109.0 128.0)" fill="#ffe000" fill-opacity="0.95"/>
<ellipse cx="120.0" cy="132.0" rx="3.5" ry="4.0" transform="rotate(0 120.0 132.0)" fill="#ffd800" fill-opacity="0.95"/>
<ellipse cx="101.0" cy="140.0" rx="3.5" ry="5.0" transform="rotate(0 101.0 140.0)" fill="#ffe000" fill-opacity="0.95"/>
<ellipse cx="111.0" cy="110.5" rx="2.6" ry="3.0" transform="rotate(0 111.0 110.5)" fill="#ffd000" fill-opacity="0.90"/>
<ellipse cx="126.0" cy="110.0" rx="2.5" ry="3.0" transform="rotate(0 126.0 110.0)" fill="#ffd000" fill-opacity="0.85"/>
<ellipse cx="106.0" cy="148.0" rx="4.0" ry="2.5" transform="rotate(20 106.0 148.0)" fill="#ffe000" fill-opacity="0.90"/>
<ellipse cx="124.0" cy="172.0" rx="5.0" ry="2.6" transform="rotate(15 124.0 172.0)" fill="#ffe000" fill-opacity="0.95"/>
<ellipse cx="131.0" cy="137.0" rx="2.2" ry="3.0" transform="rotate(0 131.0 137.0)" fill="#ffd000" fill-opacity="0.85"/>
<ellipse cx="115.0" cy="141.0" rx="2.5" ry="2.5" transform="rotate(0 115.0 141.0)" fill="#ffd800" fill-opacity="0.80"/>
<ellipse cx="129.0" cy="127.0" rx="3.0" ry="4.0" transform="rotate(0 129.0 127.0)" fill="#8a4a44" fill-opacity="0.70"/>
<ellipse cx="131.0" cy="143.0" rx="3.0" ry="5.0" transform="rotate(0 131.0 143.0)" fill="#96403a" fill-opacity="0.65"/>
<ellipse cx="124.0" cy="152.0" rx="3.5" ry="3.0" transform="rotate(0 124.0 152.0)" fill="#8c4640" fill-opacity="0.70"/>
<ellipse cx="120.0" cy="161.0" rx="4.0" ry="2.5" transform="rotate(20 120.0 161.0)" fill="#8a4a44" fill-opacity="0.70"/>
<ellipse cx="125.0" cy="128.0" rx="2.5" ry="2.5" transform="rotate(0 125.0 128.0)" fill="#9a3c34" fill-opacity="0.60"/>
<ellipse cx="113.0" cy="134.0" rx="2.0" ry="2.5" transform="rotate(0 113.0 134.0)" fill="#b03020" fill-opacity="0.60"/>
<ellipse cx="98.0" cy="126.0" rx="2.5" ry="3.5" transform="rotate(-25 98.0 126.0)" fill="#a04030" fill-opacity="0.60"/>
<ellipse cx="118.0" cy="104.0" rx="3.0" ry="2.5" transform="rotate(0 118.0 104.0)" fill="#80605a" fill-opacity="0.70"/>
<ellipse cx="115.0" cy="155.0" rx="6.0" ry="4.0" transform="rotate(0 115.0 155.0)" fill="#d81810" fill-opacity="0.80"/>
<ellipse cx="122.0" cy="120.0" rx="3.0" ry="4.0" transform="rotate(0 122.0 120.0)" fill="#d81810" fill-opacity="0.70"/>
<ellipse cx="106.0" cy="160.0" rx="4.0" ry="3.0" transform="rotate(0 106.0 160.0)" fill="#d02010" fill-opacity="0.70"/>
<ellipse cx="127.0" cy="146.0" rx="4.0" ry="5.0" transform="rotate(0 127.0 146.0)" fill="#d81810" fill-opacity="0.70"/>
<ellipse cx="117.0" cy="116.0" rx="3.0" ry="3.0" transform="rotate(0 117.0 116.0)" fill="#d81810" fill-opacity="0.70"/>
</g>
<rect x="88" y="90" width="54" height="96" fill="#000" filter="url(#ptex)"/>
<path d="M114.2 93.2 C116.0 94.1 121.8 96.1 124.9 98.8 C128.0 101.5 130.7 105.5 132.6 109.6 C134.5 113.7 135.5 118.6 136.4 123.4 C137.3 128.2 137.8 133.6 137.9 138.7 C138.0 143.8 137.7 148.9 137.2 154.0 C136.7 159.1 136.0 164.7 134.9 169.4 C133.8 174.1 131.4 180.2 130.7 182.3 L130.7 182.3 C129.0 181.7 124.1 180.2 120.3 178.6 C116.5 177.0 111.6 175.1 108.0 172.5 C104.4 169.9 101.2 166.6 98.8 163.3 C96.4 160.0 94.6 156.1 93.4 152.5 C92.2 148.9 91.4 145.6 91.4 141.8 C91.4 138.0 92.2 133.6 93.4 129.5 C94.6 125.4 96.9 121.0 98.8 117.2 C100.7 113.4 103.0 109.7 104.9 106.5 C106.8 103.3 108.8 100.2 110.3 98.0 C111.8 95.8 113.5 94.0 114.2 93.2Z" fill="none" stroke="url(#pshade)" stroke-width="9"/>
</g>
<path d="M114.2 93.2 C116.0 94.1 121.8 96.1 124.9 98.8 C128.0 101.5 130.7 105.5 132.6 109.6 C134.5 113.7 135.5 118.6 136.4 123.4 C137.3 128.2 137.8 133.6 137.9 138.7 C138.0 143.8 137.7 148.9 137.2 154.0 C136.7 159.1 136.0 164.7 134.9 169.4 C133.8 174.1 131.4 180.2 130.7 182.3 L130.7 182.3 C129.0 181.7 124.1 180.2 120.3 178.6 C116.5 177.0 111.6 175.1 108.0 172.5 C104.4 169.9 101.2 166.6 98.8 163.3 C96.4 160.0 94.6 156.1 93.4 152.5 C92.2 148.9 91.4 145.6 91.4 141.8 C91.4 138.0 92.2 133.6 93.4 129.5 C94.6 125.4 96.9 121.0 98.8 117.2 C100.7 113.4 103.0 109.7 104.9 106.5 C106.8 103.3 108.8 100.2 110.3 98.0 C111.8 95.8 113.5 94.0 114.2 93.2Z" fill="none" stroke="#000" stroke-width="2" stroke-linejoin="round"/>
<g font-family='"Liberation Sans", Arial, Helvetica, sans-serif' font-size="13.7">
<text x="9.4" y="129" fill="#1a85ff">Occipital</text>
<text x="290.6" y="35.7" fill="#ff7070">Frontoparietal</text>
<text x="315.0" y="207.1" fill="#70d820">Temporal</text>
<text x="-0.3" y="10.6" font-size="19.4" font-weight="bold" fill="#000">a</text>
</g>
<g id="chart" font-family='"Liberation Sans", Arial, Helvetica, sans-serif'>
<rect x="113.0" y="311.7" width="22.0" height="301.8" fill="#000"/>
<line x1="124.0" y1="303.0" x2="124.0" y2="312.7" stroke="#000" stroke-width="2.5"/>
<rect x="202.8" y="333.9" width="22.2" height="279.6" fill="#000"/>
<line x1="213.9" y1="325.0" x2="213.9" y2="334.9" stroke="#000" stroke-width="2.5"/>
<rect x="266.9" y="411.1" width="22.3" height="202.4" fill="#000"/>
<line x1="278.1" y1="393.4" x2="278.1" y2="412.1" stroke="#000" stroke-width="2.5"/>
<rect x="331.2" y="522.7" width="22.3" height="90.8" fill="#000"/>
<line x1="342.3" y1="476.2" x2="342.3" y2="523.7" stroke="#000" stroke-width="2.5"/>
<line x1="150.0" y1="338.0" x2="150.0" y2="360.8" stroke="#808080" stroke-width="2.5"/>
<rect x="139.7" y="360.3" width="21.0" height="253.2" fill="#808080" stroke="#000" stroke-width="1"/>
<line x1="240.0" y1="346.9" x2="240.0" y2="362.1" stroke="#808080" stroke-width="2.5"/>
<rect x="229.8" y="361.6" width="20.5" height="251.9" fill="#808080" stroke="#000" stroke-width="1"/>
<line x1="304.0" y1="420.9" x2="304.0" y2="444.0" stroke="#808080" stroke-width="2.5"/>
<rect x="293.7" y="443.5" width="20.7" height="170.0" fill="#808080" stroke="#000" stroke-width="1"/>
<line x1="368.2" y1="488.6" x2="368.2" y2="546.6" stroke="#808080" stroke-width="2.5"/>
<rect x="358.0" y="546.1" width="20.5" height="67.4" fill="#808080" stroke="#000" stroke-width="1"/>
<path d="M98.3 284.9 V613.5 H394.0" fill="none" stroke="#000" stroke-width="1.1"/>
<line x1="98.3" y1="285.4" x2="102.0" y2="285.4" stroke="#000" stroke-width="1"/>
<line x1="98.3" y1="434.5" x2="102.0" y2="434.5" stroke="#000" stroke-width="1"/>
<line x1="98.3" y1="583.6" x2="102.0" y2="583.6" stroke="#000" stroke-width="1"/>
<line x1="136.8" y1="613.5" x2="136.8" y2="609.8" stroke="#555" stroke-width="0.8"/>
<line x1="226.2" y1="613.5" x2="226.2" y2="609.8" stroke="#555" stroke-width="0.8"/>
<line x1="290.8" y1="613.5" x2="290.8" y2="609.8" stroke="#555" stroke-width="0.8"/>
<line x1="99.8" y1="516.0" x2="387.8" y2="516.0" stroke="#000" stroke-width="1.4" stroke-dasharray="2.1 2.28"/>
<line x1="116.4" y1="583.6" x2="393" y2="583.6" stroke="#000" stroke-width="2.4" stroke-dasharray="8.9 8.91"/>
<line x1="98.3" y1="583.6" x2="107" y2="583.6" stroke="#000" stroke-width="1.1"/>
<circle cx="123.2" cy="292.8" r="5.55" fill="#fff" stroke="#000" stroke-width="1.2"/>
<circle cx="120.6" cy="302.2" r="5.55" fill="#fff" stroke="#000" stroke-width="1.2"/>
<circle cx="125.7" cy="314.5" r="5.55" fill="#fff" stroke="#000" stroke-width="1.2"/>
<circle cx="128.1" cy="336.6" r="5.55" fill="#fff" stroke="#000" stroke-width="1.2"/>
<circle cx="213.9" cy="295.8" r="5.55" fill="#fff" stroke="#000" stroke-width="1.2"/>
<circle cx="211.6" cy="324.1" r="5.55" fill="#fff" stroke="#000" stroke-width="1.2"/>
<circle cx="216.5" cy="347.6" r="5.55" fill="#fff" stroke="#000" stroke-width="1.2"/>
<circle cx="209.0" cy="367.9" r="5.55" fill="#fff" stroke="#000" stroke-width="1.2"/>
<circle cx="276.4" cy="358.6" r="5.55" fill="#fff" stroke="#000" stroke-width="1.2"/>
<circle cx="273.9" cy="420.2" r="5.55" fill="#fff" stroke="#000" stroke-width="1.2"/>
<circle cx="278.6" cy="421.3" r="5.55" fill="#fff" stroke="#000" stroke-width="1.2"/>
<circle cx="281.3" cy="444.7" r="5.55" fill="#fff" stroke="#000" stroke-width="1.2"/>
<circle cx="341.1" cy="384.9" r="5.55" fill="#fff" stroke="#000" stroke-width="1.2"/>
<circle cx="338.3" cy="554.8" r="5.55" fill="#fff" stroke="#000" stroke-width="1.2"/>
<circle cx="343.3" cy="552.9" r="5.55" fill="#fff" stroke="#000" stroke-width="1.2"/>
<circle cx="345.9" cy="597.0" r="5.55" fill="#fff" stroke="#000" stroke-width="1.2"/>
<circle cx="153.3" cy="424.2" r="5.55" fill="#bfbfbf" stroke="#000" stroke-width="1.2"/>
<circle cx="145.8" cy="347.4" r="5.55" fill="#bfbfbf" stroke="#000" stroke-width="1.2"/>
<circle cx="148.2" cy="334.7" r="5.55" fill="#bfbfbf" stroke="#000" stroke-width="1.2"/>
<circle cx="150.6" cy="330.1" r="5.55" fill="#bfbfbf" stroke="#000" stroke-width="1.2"/>
<circle cx="239.1" cy="326.9" r="5.55" fill="#bfbfbf" stroke="#000" stroke-width="1.2"/>
<circle cx="233.9" cy="359.9" r="5.55" fill="#bfbfbf" stroke="#000" stroke-width="1.2"/>
<circle cx="237.0" cy="358.1" r="5.55" fill="#bfbfbf" stroke="#000" stroke-width="1.2"/>
<circle cx="241.9" cy="397.0" r="5.55" fill="#bfbfbf" stroke="#000" stroke-width="1.2"/>
<circle cx="302.5" cy="400.8" r="5.55" fill="#bfbfbf" stroke="#000" stroke-width="1.2"/>
<circle cx="305.3" cy="408.8" r="5.55" fill="#bfbfbf" stroke="#000" stroke-width="1.2"/>
<circle cx="300.0" cy="470.0" r="5.55" fill="#bfbfbf" stroke="#000" stroke-width="1.2"/>
<circle cx="307.5" cy="490.0" r="5.55" fill="#bfbfbf" stroke="#000" stroke-width="1.2"/>
<circle cx="366.0" cy="393.0" r="5.55" fill="#bfbfbf" stroke="#000" stroke-width="1.2"/>
<circle cx="363.8" cy="524.8" r="5.55" fill="#bfbfbf" stroke="#000" stroke-width="1.2"/>
<circle cx="369.0" cy="607.5" r="5.55" fill="#bfbfbf" stroke="#000" stroke-width="1.2"/>
<g font-size="15.3" text-anchor="end" fill="#000">
<text transform="translate(91.5 290.9) scale(1 1.12)">1</text><text transform="translate(92.5 440.2) scale(1.015 1.12)">0.75</text><text transform="translate(92.5 589.3) scale(1.015 1.12)">0.5</text>
</g>
<text transform="translate(49.9 449.0) rotate(-90) scale(1 1.13)" font-size="13.5" text-anchor="middle">Accuracy</text>
<text x="246.2" y="273.6" font-size="15.5" text-anchor="middle">Pairwise recognition</text>
<text transform="translate(147.5 625.8) rotate(-35.3)" font-size="15.6" text-anchor="end">Full select.</text>
<text transform="translate(233.6 628.0) rotate(-35.3)" font-size="15.6" text-anchor="end">Occipital</text>
<text transform="translate(298.4 628.0) rotate(-35.3)" font-size="15.6" text-anchor="end">Temporal</text>
<text transform="translate(363.4 628.6) rotate(-35.3)" font-size="15.6" text-anchor="end">Frontoparietal</text>
<rect x="304.7" y="285.4" width="144.3" height="76.5" fill="#fff" stroke="#000" stroke-width="1.1"/>
<rect x="308.9" y="289.9" width="45" height="12.8" fill="#000"/>
<rect x="309.4" y="307.7" width="44" height="12.6" fill="#808080" stroke="#000" stroke-width="1"/>
<line x1="309.1" y1="331.3" x2="354" y2="331.3" stroke="#000" stroke-width="2.5" stroke-dasharray="8.8 9.3"/>
<line x1="310.0" y1="348.8" x2="352.8" y2="348.8" stroke="#000" stroke-width="1.7" stroke-dasharray="2.2 2.27"/>
<g font-size="13.85" fill="#000">
<text x="359.9" y="299.9">VAE-GAN</text><text x="359.9" y="317.3">PCA</text><text x="359.9" y="334.7">Chance</text>
<text x="359.9" y="352.1">Indiv. <tspan font-style="italic">p</tspan> &lt; 0.05</text>
</g>
<text x="-0.3" y="268.2" font-size="19.6" font-weight="bold">b</text>
</g>
</svg></body></html>
